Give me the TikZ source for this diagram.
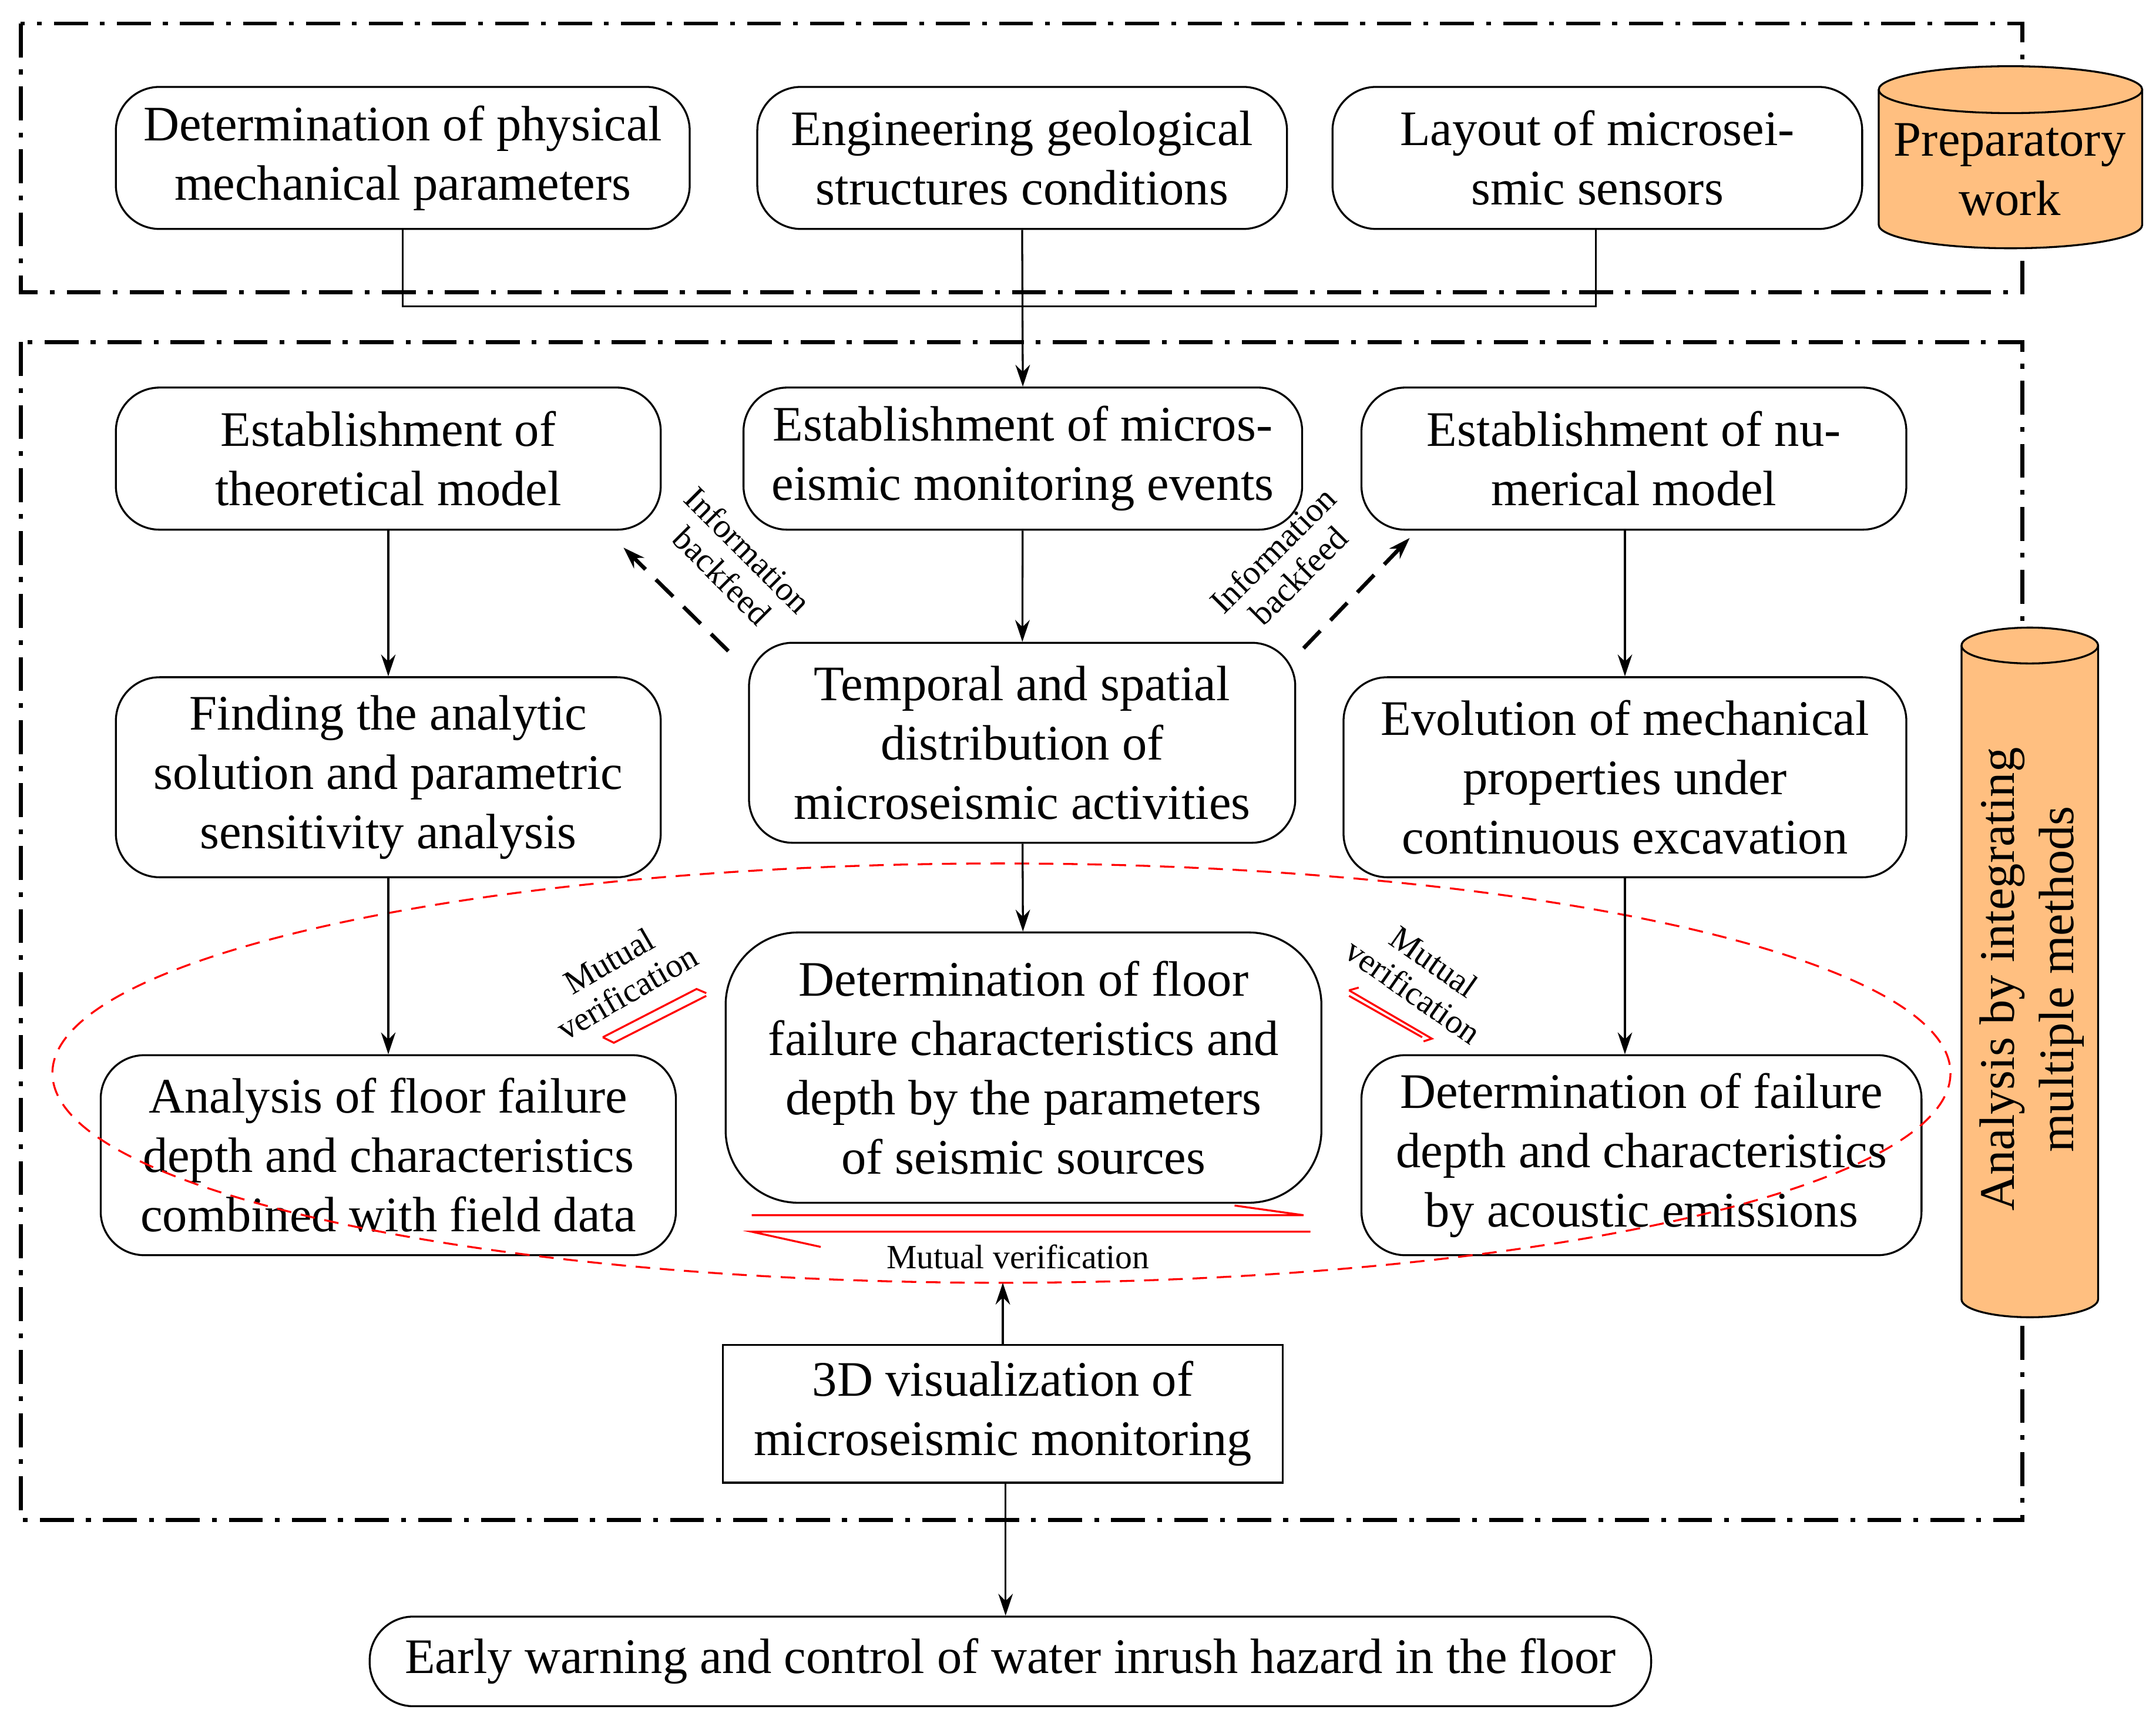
\documentclass[tikz,border=0pt]{standalone}
\usepackage{fontspec}
\setmainfont{Liberation Serif}
\usetikzlibrary{arrows.meta,calc}
\begin{document}
\begin{tikzpicture}[x=0.02cm,y=-0.02cm,
 box/.style={draw,thick,rounded corners=18pt,align=center,font=\fontsize{20.5}{24.5}\selectfont,inner sep=0pt},
 frame/.style={line width=1.6pt,dash pattern=on 14pt off 5pt on 2pt off 5pt},
 arr/.style={-{Stealth[length=9pt,width=6pt]},thick},
 lab/.style={font=\fontsize{14}{15}\selectfont,align=center},
 red2/.style={red,thick}]
\useasboundingbox (0,0) rectangle (1563,1247);
\draw[frame] (15,17) rectangle (1466,212);
\draw[frame] (15,248) rectangle (1466,1102);
\newcommand{\bx}[6]{\node[box,minimum width={(#4-#2)*0.02cm},minimum height={(#5-#3)*0.02cm}] (#1) at ({(#2+#4)/2},{(#3+#5)/2}) {#6};}
\bx{a1}{84}{63}{500}{166}{Determination of physical\\mechanical parameters}
\bx{a2}{549}{63}{933}{166}{Engineering geological\\structures conditions}
\bx{a3}{966}{63}{1350}{166}{Layout of microsei-\\smic sensors}
\bx{b1}{84}{281}{479}{384}{Establishment of\\theoretical model}
\bx{b2}{539}{281}{944}{384}{Establishment of micros-\\eismic monitoring events}
\bx{b3}{987}{281}{1382}{384}{Establishment of nu-\\merical model}
\bx{c2}{543}{466}{939}{611}{Temporal and spatial\\distribution of\\microseismic activities}
\bx{c1}{84}{491}{479}{636}{Finding the analytic\\solution and parametric\\sensitivity analysis}
\bx{c3}{974}{491}{1382}{636}{Evolution of mechanical\\properties under\\continuous excavation}
\node[box,rounded corners=30pt,minimum width=8.64cm,minimum height=3.92cm] (d2) at (742,774) {Determination of floor\\failure characteristics and\\depth by the parameters\\of seismic sources};
\bx{d1}{73}{765}{490}{910}{Analysis of floor failure\\depth and characteristics\\combined with field data}
\bx{d3}{987}{765}{1393}{910}{Determination of failure\\depth and characteristics\\by acoustic emissions}
\node[box,rounded corners=0pt,minimum width=8.12cm,minimum height=2cm] (e) at (727,1025) {3D visualization of\\microseismic monitoring};
\bx{f}{268}{1172}{1197}{1237}{Early warning and control of water inrush hazard in the floor}
% cylinders
\fill[orange!50] (1362,65) -- (1362,163) arc[start angle=180,end angle=0,x radius=95.5,y radius=17] -- (1553,65) arc[start angle=0,end angle=-180,x radius=95.5,y radius=17];
\draw[thick] (1457.5,65) ellipse[x radius=95.5,y radius=17];
\draw[thick] (1362,65) -- (1362,163) arc[start angle=180,end angle=0,x radius=95.5,y radius=17] -- (1553,65);
\node[font=\fontsize{20.5}{24.5}\selectfont,align=center] (pw) at (1457,123) {Preparatory\\work};
\fill[orange!50] (1422,468) -- (1422,942) arc[start angle=180,end angle=0,x radius=49.5,y radius=13] -- (1521,468) arc[start angle=0,end angle=-180,x radius=49.5,y radius=13];
\draw[thick] (1471.5,468) ellipse[x radius=49.5,y radius=13];
\draw[thick] (1422,468) -- (1422,942) arc[start angle=180,end angle=0,x radius=49.5,y radius=13] -- (1521,468);
\node[font=\fontsize{20.5}{24.5}\selectfont,align=center,rotate=90] (am) at (1473,710) {Analysis by integrating\\multiple methods};
% red ellipse
\draw[red,thick,dash pattern=on 6pt off 4pt] (726,778) ellipse[x radius=688,y radius=152];
% connectors
\coordinate (j1) at (292,222); \coordinate (j3) at (1157,222);
\draw[thick] (a1.south -| j1) -- (j1) -- (j3) -- (a3.south -| j3);
\draw[arr] (a2.south) -- (b2.north);
\draw[arr] (b1) -- (c1); \draw[arr] (b2) -- (c2); \draw[arr] (c2) -- (d2);
\draw[arr] (b3.south -| 1178,0) -- (c3.north -| 1178,0);
\draw[arr] (c1) -- (d1);
\draw[arr] (c3.south -| 1178,0) -- (d3.north -| 1178,0);
\coordinate (eb) at (727,930);
\draw[arr] (e.north) -- (eb);
\draw[arr] (e.south -| 729,0) -- (f.north -| 729,0);
\coordinate (fb1) at (452,397); \coordinate (fb2) at (1022,390);
\draw[arr,line width=1.6pt,dash pattern=on 10pt off 6pt] (528,472) -- (fb1);
\draw[arr,line width=1.6pt,dash pattern=on 10pt off 6pt] (945,470) -- (fb2);
\node[lab,rotate=-45] at (533,408) {Information\\backfeed};
\node[lab,rotate=45] at (932,408) {Information\\backfeed};
% mutual verification arrows
\draw[red2] (437,752) -- (505,717) -- (512,720);
\draw[red2] (512,722) -- (445,756) -- (437,752);
\draw[red2] (978,718) -- (1038,753) -- (1032,755);
\draw[red2] (978,722) -- (1031,752);
\draw[red2] (978,718) -- (985,716);
\draw[red2] (545,881) -- (945,881) -- (895,874);
\draw[red2] (950,893) -- (545,893) -- (595,904);
\node[lab,rotate=30] at (448,708) {Mutual\\verification};
\node[lab,rotate=-35] at (1032,708) {Mutual\\verification};
\node[lab] at (738,911) {Mutual verification};
\end{tikzpicture}
\end{document}
